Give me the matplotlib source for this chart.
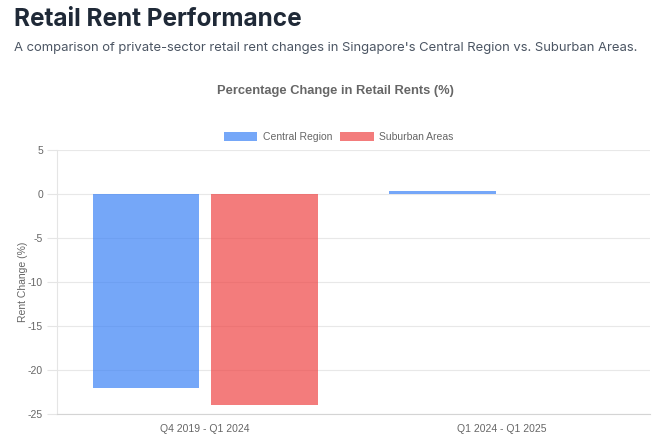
import numpy as np
import matplotlib.pyplot as plt

periods = ["Q4 2019 - Q1 2024", "Q1 2024 - Q1 2025"]
central = [-22.1, 0.35]
suburban = [-24.0, 0.0]
series_names = ["Central Region", "Suburban Areas"]

blue_fill = (59 / 255, 130 / 255, 246 / 255, 0.7)
red_fill = (239 / 255, 68 / 255, 68 / 255, 0.7)
chart_font = ["Liberation Sans", "DejaVu Sans"]
plt.rcParams["axes.unicode_minus"] = False

fig = plt.figure(figsize=(6.52, 4.42), dpi=100)
fig.patch.set_facecolor("white")

fig.text(14 / 652, 1 - 20 / 442, "Retail Rent Performance", fontsize=17.5, fontweight="bold",
         color="#1f2937", va="center", ha="left", family="Inter")
fig.text(14 / 652, 1 - 48 / 442,
         "A comparison of private-sector retail rent changes in Singapore's Central Region vs. Suburban Areas.",
         fontsize=9.4, color="#4b5563", va="center", ha="left", family="Inter")
fig.text(335 / 652, 1 - 91 / 442, "Percentage Change in Retail Rents (%)", fontsize=9.3,
         fontweight="bold", color="#666666", va="center", ha="center", family=chart_font)

ax = fig.add_axes([57 / 652, 28 / 442, 593 / 652, 264 / 442])

x = np.arange(len(periods))
w = 0.8 / 2 * 0.9
off = 0.8 / 4
ax.bar(x - off, central, width=w, color=blue_fill, linewidth=0,
       label=series_names[0], zorder=3)
ax.bar(x + off, suburban, width=w, color=red_fill, linewidth=0,
       label=series_names[1], zorder=3)

ax.set_xlim(-0.5, 1.5)
ax.set_ylim(-25, 5)
ax.set_yticks(np.arange(-25, 6, 5))
ax.set_xticks(x)
ax.set_xticklabels(periods, family=chart_font)
for lab in ax.get_yticklabels():
    lab.set_family(chart_font)
ax.tick_params(axis="both", labelsize=7.5, colors="#666666", length=7, width=0.8)
ax.tick_params(axis="x", length=0, pad=7)
ax.tick_params(axis="y", color="#e5e5e5", pad=3)
ax.grid(axis="y", color="#e8e8e8", linewidth=0.8, zorder=0)
for s in ["top", "right"]:
    ax.spines[s].set_visible(False)
ax.spines["left"].set_color("#e5e5e5")
ax.spines["bottom"].set_color("#d4d4d4")
ax.set_ylabel("Rent Change (%)", fontsize=7.5, color="#666666", family=chart_font)
ax.yaxis.set_label_coords(-(57 - 28) / 593, 0.5)

leg = ax.legend(loc="center", bbox_to_anchor=(0.475, 1 + 13 / 264), ncol=2, frameon=False,
                prop={"family": chart_font, "size": 7.5}, handlelength=3.2, handleheight=1.0,
                columnspacing=0.8, handletextpad=0.5, labelcolor="#666666")

fig.savefig("out.png", dpi=100)
